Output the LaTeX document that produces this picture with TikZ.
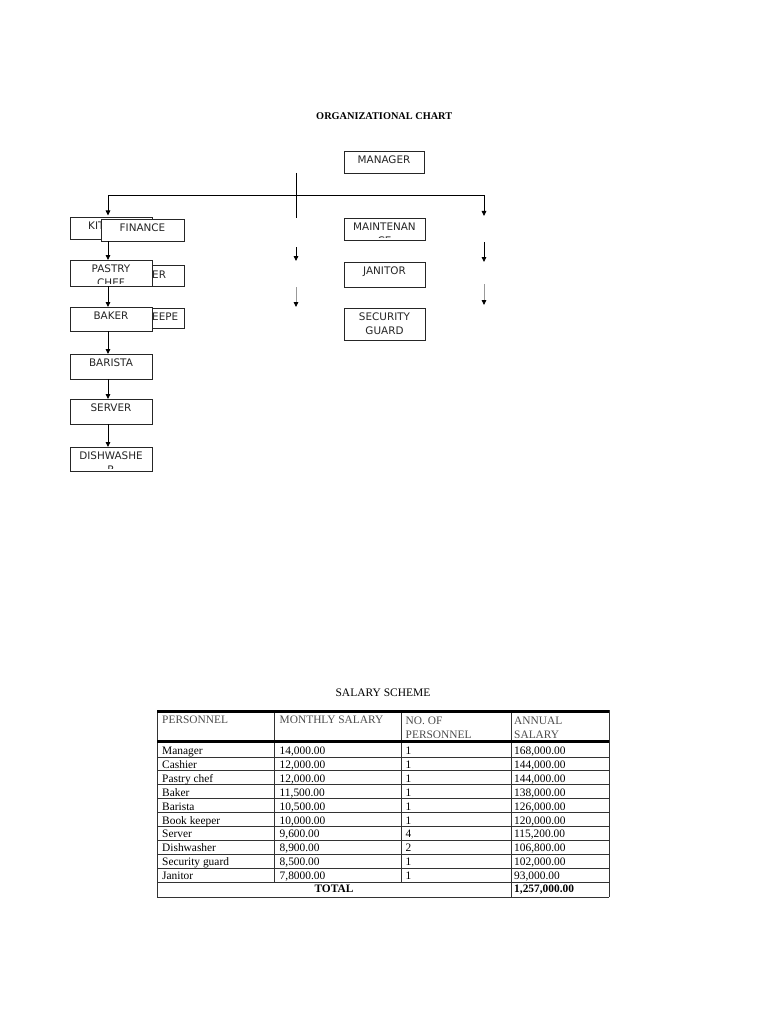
\documentclass[tikz,border=0pt]{standalone}
\usepackage{fontspec}
\setmainfont{Liberation Serif}
\newfontfamily\orgsans{DejaVu Sans}
\usetikzlibrary{arrows.meta,fit,calc}
\tikzset{
  orgbox/.style={draw=black!85, line width=0.8pt, fill=white, inner sep=0pt, outer sep=0pt},
  orglbl/.style={font=\orgsans\fontsize{10.4}{12}\selectfont, text=black!85, anchor=base, inner sep=0pt},
  orgfrag/.style={font=\orgsans\fontsize{10.4}{12}\selectfont, text=black!85, anchor=base west, inner sep=0pt},
  orgarr/.style={draw=black, line width=0.8pt, -{Triangle[length=5pt,width=4.6pt]}},
  orgarrg/.style={draw=black!40, line width=0.8pt, -{Triangle[length=5pt,width=4.6pt,fill=black,color=black]}},
  orgline/.style={draw=black, line width=0.8pt},
  tcell/.style={anchor=base west, inner sep=0pt, font=\fontsize{11.4}{14}\selectfont, text=black},
  thead/.style={anchor=base west, inner sep=0pt, font=\fontsize{11.4}{14}\selectfont, text=black!70},
  tthin/.style={draw=black!80, line width=0.8pt},
}
\newcommand\orgbox[7]{%
  \node[orgbox, fit={(#2,#3)(#4,#5)}] (#1) {};
  \begin{scope}
    \clip ([xshift=1pt,yshift=-1pt]#1.north west) rectangle ([xshift=-1pt,yshift=3pt]#1.south east);
    \node[orglbl] (#1t1) at ([yshift=-12.8pt]#1.north) {#6};
    \node[orglbl] (#1t2) at ([yshift=-26.8pt]#1.north) {#7};
  \end{scope}}
% a box that lies mostly behind another: only the visible part of its text
\newcommand\backbox[8]{%
  \node[orgbox, fit={(#2,#3)(#4,#5)}] (#1) {};
  \node[orgfrag] (#1t1) at (#6,#7) {#8};}
\newcommand\trow[5]{%
  \pgfmathsetmacro\rowbase{743+13.9*(#1-1)+11.5}
  \node[tcell] (p#1) at (162,\rowbase) {#2};
  \node[tcell] (m#1) at (279.5,\rowbase) {#3};
  \node[tcell] (n#1) at (405.5,\rowbase) {#4};
  \node[tcell] (a#1) at (514,\rowbase) {#5};}
\begin{document}
\begin{tikzpicture}[x=1pt,y=-1pt]
\useasboundingbox[fill=white] (0,0) rectangle (768,1024);

% title
\node[font=\bfseries\fontsize{10.3}{12}\selectfont, anchor=base, inner sep=0pt] (title) at (384.2,120) {ORGANIZATIONAL CHART};

% boxes (back ones first)
\orgbox{mgr}{344}{151}{424}{173}{MANAGER}{}
\backbox{kit}{70}{217}{152}{239}{88}{229.8}{KIT}
\orgbox{fin}{101}{219}{184}{241}{FINANCE}{}
\backbox{cash}{101}{265}{184}{286}{152}{278}{ER}
\orgbox{pastry}{70}{260}{152}{286}{PASTRY}{CHEF}
\backbox{book}{101}{308}{184}{328}{152}{320.8}{EEPE}
\orgbox{baker}{70}{307}{152}{331}{BAKER}{}
\orgbox{barista}{70}{354}{152}{379}{BARISTA}{}
\orgbox{server}{70}{399}{152}{424}{SERVER}{}
\orgbox{dish}{70}{447}{152}{471}{DISHWASHE}{R}
\orgbox{maint}{344}{218}{425}{240}{MAINTENAN}{CE}
\orgbox{jan}{344}{262}{425}{287}{JANITOR}{}
\orgbox{sec}{344}{308}{425}{340}{SECURITY}{GUARD}

% column coordinates
\coordinate (cL) at (108,0);
\coordinate (cM) at (296,0);
\coordinate (rtip) at (484,216);
\coordinate (rbend) at (484,195.5);
\coordinate (m1a) at (296,247);
\coordinate (m1b) at (296,261);
\coordinate (m2a) at (296,287);
\coordinate (m2b) at (296,307);
\coordinate (r1a) at (484,242);
\coordinate (r1b) at (484,262);
\coordinate (r2a) at (484,284);
\coordinate (r2b) at (484,305);

% connectors
\draw[orgline, {Triangle[length=5pt,width=4.6pt]}-{Triangle[length=5pt,width=4.6pt]}]
  (rtip) -- (rbend) -| ([yshift=1.5pt]kit.north -| cL);
\draw[orgline] (mgr.south -| cM) -- (maint.north -| cM);
\draw[orgarr] (fin.south -| cL) -- (pastry.north -| cL);
\draw[orgarr] (pastry.south -| cL) -- (baker.north -| cL);
\draw[orgarr] (baker.south -| cL) -- (barista.north -| cL);
\draw[orgarr] (barista.south -| cL) -- (server.north -| cL);
\draw[orgarr] (server.south -| cL) -- (dish.north -| cL);
\draw[orgarr] (m1a) -- (m1b);
\draw[orgarrg] (m2a) -- (m2b);
\draw[orgarr] (r1a) -- (r1b);
\draw[orgarrg] (r2a) -- (r2b);

% salary scheme
\node[font=\fontsize{11.5}{14}\selectfont, anchor=base, inner sep=0pt] (stitle) at (383,696) {SALARY SCHEME};

% table lines
\foreach \k in {1,...,10} {
  \draw[tthin] (157,{743+13.9*\k}) -- (609,{743+13.9*\k});
}
\draw[tthin] (157,897) -- (609,897);
\draw[tthin] (157,710) -- (157,897);
\draw[tthin] (609,710) -- (609,897);
\draw[tthin] (274,710) -- (274,882);
\draw[tthin] (401,710) -- (401,882);
\draw[tthin] (511,710) -- (511,897);
\draw[black, line width=2.6pt] (157,711.5) -- (609,711.5);
\draw[black, line width=3pt] (157,741) -- (609,741);

% header
\node[thead] (h1) at (162,723) {PERSONNEL};
\node[thead] (h2) at (279.5,723) {MONTHLY SALARY};
\node[thead] (h3a) at (405.5,724) {NO. OF};
\node[thead] (h3b) at (405.5,738) {PERSONNEL};
\node[thead] (h4a) at (514,724) {ANNUAL};
\node[thead] (h4b) at (514,738) {SALARY};

% rows
\trow{1}{Manager}{14,000.00}{1}{168,000.00}
\trow{2}{Cashier}{12,000.00}{1}{144,000.00}
\trow{3}{Pastry chef}{12,000.00}{1}{144,000.00}
\trow{4}{Baker}{11,500.00}{1}{138,000.00}
\trow{5}{Barista}{10,500.00}{1}{126,000.00}
\trow{6}{Book keeper}{10,000.00}{1}{120,000.00}
\trow{7}{Server}{9,600.00}{4}{115,200.00}
\trow{8}{Dishwasher}{8,900.00}{2}{106,800.00}
\trow{9}{Security guard}{8,500.00}{1}{102,000.00}
\trow{10}{Janitor}{7,8000.00}{1}{93,000.00}

% total
\node[font=\bfseries\fontsize{11.4}{14}\selectfont, anchor=base, inner sep=0pt] (total) at (334,892.5) {TOTAL};
\node[tcell, font=\bfseries\fontsize{11.4}{14}\selectfont] (totv) at (514,892.5) {1,257,000.00};
\end{tikzpicture}
\end{document}
